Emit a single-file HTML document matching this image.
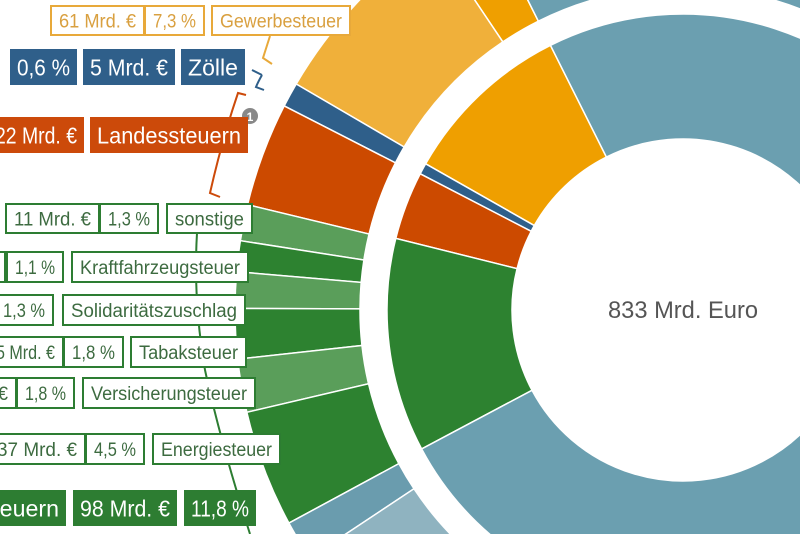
<!DOCTYPE html>
<html><head><meta charset="utf-8"><style>
html,body{margin:0;padding:0;background:#fff;overflow:hidden;width:800px;height:534px;}
svg{display:block;}
text{font-family:"Liberation Sans Narrow","Liberation Sans",sans-serif;}
</style></head><body>
<svg id="s" width="800" height="534" viewBox="0 0 800 534" xmlns="http://www.w3.org/2000/svg">
<g id="arcs"></g>
<text x="683" y="318" text-anchor="middle" font-size="24" fill="#555" textLength="150" lengthAdjust="spacingAndGlyphs">833 Mrd. Euro</text>
<g fill="none" stroke-width="2">
<path d="M270 36 L263 58 L272 64" stroke="#e8a93a"/>
<path d="M252 70 L262 75 M262 75 Q258 82 256 87 L264 90" stroke="#2f5f8a"/>
<path d="M246 95 L238 93 Q222 140 210 193 L220 197" stroke="#cc4a0a"/>
<path d="M197 233 Q193 300 205 370 Q220 440 250 534" stroke="#2d7d32"/>
</g>
<circle cx="250" cy="116" r="8" fill="#888"/>
<text x="250" y="121" text-anchor="middle" font-size="12" font-weight="bold" fill="#fff">1</text>
<g id="labels"></g>
</svg>
<script>
var cx=683,cy=310,NS="http://www.w3.org/2000/svg";
function pt(r,a){a=a*Math.PI/180;return [cx-r*Math.sin(a),cy-r*Math.cos(a)];}
function arc(r0,r1,a0,a1,col){
 var p1=pt(r1,a0),p2=pt(r1,a1),p3=pt(r0,a1),p4=pt(r0,a0),l=(a1-a0)>180?1:0;
 var d="M"+p1+" A"+r1+" "+r1+" 0 "+l+" 0 "+p2+" L"+p3+" A"+r0+" "+r0+" 0 "+l+" 1 "+p4+"Z";
 var e=document.createElementNS(NS,"path");e.setAttribute("d",d);e.setAttribute("fill",col);
 e.setAttribute("stroke","#fff");e.setAttribute("stroke-width","1.5");
 document.getElementById("arcs").appendChild(e);}
var DG="#2d8230",LG="#5a9e5a",T="#6b9fb0";
var ri0=171,ri1=296;
arc(ri0,ri1,26.6,60.4,"#ef9f00");
arc(ri0,ri1,60.4,62.6,"#2f5f8a");
arc(ri0,ri1,62.6,76,"#cc4a00");
arc(ri0,ri1,76,118,DG);
arc(ri0,ri1,118,386.6,T);
var ro0=323,ro1=448;
arc(ro0,ro1,26.6,33.9,"#ef9f00");
arc(ro0,ro1,33.9,59.7,"#f0b03a");
arc(ro0,ro1,59.7,62.9,"#2f5f8a");
arc(ro0,ro1,62.9,76.4,"#cc4a00");
arc(ro0,ro1,76.4,81.1,LG);
arc(ro0,ro1,81.1,85.1,DG);
arc(ro0,ro1,85.1,89.8,LG);
arc(ro0,ro1,89.8,96.3,DG);
arc(ro0,ro1,96.3,103.2,LG);
arc(ro0,ro1,103.2,118.4,DG);
arc(ro0,ro1,118.4,123.6,"#6a9cae");
arc(ro0,ro1,123.6,145,"#8fb3c0");
arc(ro0,ro1,145,386.6,T);
var L=document.getElementById("labels");
function box(x0,x1,y0,y1,txt,col,filled,fs){
 var r=document.createElementNS(NS,"rect");
 r.setAttribute("x",x0+1);r.setAttribute("y",y0+1);r.setAttribute("width",x1-x0-2);r.setAttribute("height",y1-y0-2);
 r.setAttribute("fill",filled?col:"#fff");r.setAttribute("stroke",filled?"none":col);r.setAttribute("stroke-width","2");L.appendChild(r);
 var t=document.createElementNS(NS,"text");
 var pad=filled?8:9, w=x1-x0-2*pad; if(w<4)return;
 t.setAttribute("x",(x0+x1)/2);t.setAttribute("y",(y0+y1)/2+fs*0.37);t.setAttribute("text-anchor","middle");
 t.setAttribute("font-size",fs);t.setAttribute("fill",filled?"#fff":(col=="#e8a93a"?"#d9a040":"#3d6b40"));
 t.textContent=txt;L.appendChild(t);
 t.setAttribute("textLength",w);t.setAttribute("lengthAdjust","spacingAndGlyphs");
}
var O="#e8a93a",B="#2f5f8a",R="#cc4a0a",G="#2d7d32";
box(50,145,5,36,"61 Mrd. €",O,0,19);box(144,205,5,36,"7,3 %",O,0,19);box(211,351,5,36,"Gewerbesteuer",O,0,19);
box(9,78,48,86,"0,6 %",B,1,23);box(82,176,48,86,"5 Mrd. €",B,1,23);box(180,246,48,86,"Zölle",B,1,23);
box(-13,85,116,154,"22 Mrd. €",R,1,23);box(89,249,116,154,"Landessteuern",R,1,23);
box(5,100,203,234,"11 Mrd. €",G,0,19);box(99,159,203,234,"1,3 %",G,0,19);box(166,253,203,234,"sonstige",G,0,19);
box(-80,6,251,283,"9 Mrd. €",G,0,19);box(6,64,251,283,"1,1 %",G,0,19);box(71,249,251,283,"Kraftfahrzeugsteuer",G,0,19);
box(-6,54,294,326,"1,3 %",G,0,19);box(62,246,294,326,"Solidaritätszuschlag",G,0,19);
box(-22,64,336,368,"15 Mrd. €",G,0,19);box(63,124,336,368,"1,8 %",G,0,19);box(130,247,336,368,"Tabaksteuer",G,0,19);
box(-80,17,377,409,"15 Mrd. €",G,0,19);box(16,75,377,409,"1,8 %",G,0,19);box(82,256,377,409,"Versicherungsteuer",G,0,19);
box(-12,86,433,465,"37 Mrd. €",G,0,19);box(85,145,433,465,"4,5 %",G,0,19);box(152,281,433,465,"Energiesteuer",G,0,19);
box(-105,67,489,527,"Bundessteuern",G,1,23);box(72,178,489,527,"98 Mrd. €",G,1,23);box(183,257,489,527,"11,8 %",G,1,23);
</script>
</body></html>
